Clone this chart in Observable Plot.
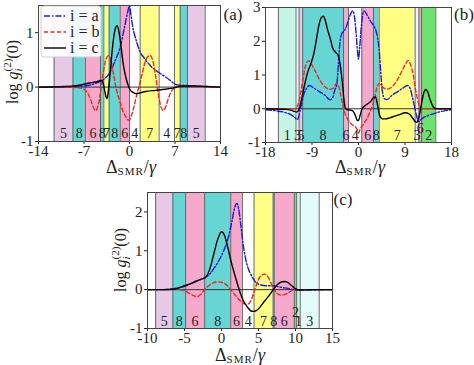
<!DOCTYPE html>
<html><head><meta charset="utf-8">
<script src="https://cdn.jsdelivr.net/npm/d3@7"></script>
<script src="https://cdn.jsdelivr.net/npm/@observablehq/plot@0.6"></script>
<style>
body{margin:0;background:#fff;}
#wrap{position:relative;width:474px;height:365px;overflow:hidden;font-family:"Liberation Serif","Times New Roman","DejaVu Serif",serif;}
#wrap > svg{position:absolute;margin:0;}
#wrap text{font-family:"Liberation Serif","Times New Roman","DejaVu Serif",serif;}
</style></head><body><div id="wrap"></div>
<script>
// ---------- band colours by regime number ----------
const bandColors = {1:"#c4f5e6", 2:"#6ee26e", 3:"#e4fbfb", 4:"#ffffff", 5:"#e7c8e7", 6:"#f6a9cb", 7:"#ffff84", 8:"#66d5d3"};

// ---------- panel (a) ----------
const aEdges = [-11.6, -8.7, -6.8, -4.46, -3.95, -3.13, -1.44, 0, 1.64, 4.56, 6.92, 7.8, 8.92, 11.64];
const aKinds = [5, 8, 6, 8, 7, 8, 6, 4, 7, 4, 7, 8, 5];
const aRaised = [];
const aBlueX = [-14, -10, -8, -6, -5, -4, -3, -2.2, -1.44, -0.77, -0.26, 0, 0.25, 0.51, 1.03, 1.54, 2.3, 3.33, 4.36, 5.38, 6.4, 6.9, 7.5, 8.5, 10, 12, 14];
const aBlueY = [0, 0, 0.01, 0.04, 0.08, 0.14, 0.27, 0.49, 0.73, 1.1, 1.39, 1.5, 1.3, 1.1, 0.86, 0.67, 0.53, 0.38, 0.28, 0.2, 0.11, 0.06, 0.04, 0.03, 0.02, 0.01, 0];
const aRedX = [-14, -10, -8, -7, -6.5, -6, -5.6, -5.2, -4.8, -4.4, -4.0, -3.6, -3.2, -2.8, -2.4, -2.0, -1.6, -1.2, -0.8, -0.4, -0.1, 0.3, 0.7, 1.1, 1.5, 1.9, 2.3, 2.8, 3.2, 3.6, 4.0, 4.4, 4.8, 5.2, 5.6, 6.0, 6.5, 7, 8, 10, 14];
const aRedY = [0, 0, -0.01, -0.04, -0.1, -0.22, -0.36, -0.43, -0.33, -0.05, 0.3, 0.52, 0.58, 0.45, 0.2, -0.05, -0.22, -0.38, -0.5, -0.58, -0.61, -0.52, -0.35, -0.15, 0.03, 0.22, 0.42, 0.56, 0.58, 0.48, 0.22, -0.1, -0.35, -0.43, -0.35, -0.2, -0.07, 0, 0.02, 0.01, 0];
const aBlackX = [-14, -10, -8, -6, -5, -4.5, -4.2, -4.0, -3.8, -3.6, -3.45, -3.3, -3.1, -2.8, -2.5, -2.2, -1.9, -1.6, -1.3, -1.0, -0.6, -0.2, 0.2, 0.6, 1.0, 1.5, 2.5, 4, 5.5, 7, 8, 10, 12, 14];
const aBlackY = [0, 0.01, 0.03, 0.08, 0.1, 0.12, 0.12, 0.05, -0.08, -0.18, -0.21, -0.12, 0.1, 0.5, 0.85, 1.07, 1.13, 1.0, 0.75, 0.45, 0.2, 0.03, -0.07, -0.1, -0.12, -0.11, -0.08, -0.06, -0.04, -0.01, 0.02, 0.02, 0.01, 0];

// ---------- panel (b) ----------
const bEdges = [-15.5, -12.1, -11.5, -10.8, -2.9, -1.93, 0.64, 2.9, 4.0, 10.96, 11.7, 12.2, 14.96];
const bKinds = [1, 3, 5, 8, 6, 4, 6, 8, 7, 3, 6, 2];
const bRaised = [10];
const bBlueX = [-18, -16, -14, -13, -12.3, -11.9, -11.6, -11.3, -11.0, -10.6, -10.0, -9.5, -8.5, -7.5, -6.5, -5.5, -5.0, -4.6, -4.2, -3.9, -3.6, -3.3, -3.0, -2.6, -2.2, -1.8, -1.4, -1.1, -0.8, -0.5, -0.25, 0, 0.25, 0.5, 0.8, 1.1, 1.5, 2, 2.5, 3, 3.4, 3.7, 4.0, 4.3, 4.6, 5.0, 5.5, 6.5, 7.5, 8.5, 9.5, 10.0, 10.5, 11.0, 11.4, 11.7, 12, 12.5, 13.5, 15, 16, 18];
const bBlueY = [-0.03, -0.06, -0.12, -0.18, -0.26, -0.32, -0.25, -0.05, 0.15, 0.42, 0.62, 0.69, 0.6, 0.5, 0.4, 0.27, 0.33, 0.55, 0.72, 1.3, 1.95, 2.2, 2.28, 2.35, 2.5, 2.7, 2.85, 2.9, 2.75, 2.3, 1.8, 1.47, 1.85, 2.35, 2.78, 2.9, 2.82, 2.68, 2.55, 2.45, 2.3, 2.1, 1.75, 1.1, 0.55, 0.3, 0.27, 0.4, 0.5, 0.6, 0.69, 0.6, 0.3, -0.05, -0.3, -0.38, -0.33, -0.27, -0.2, -0.12, -0.08, -0.03];
const bRedX = [-18, -13, -12.2, -11.8, -11.4, -11.0, -10.6, -10.2, -9.7, -9.2, -8.5, -7.5, -6.5, -5.5, -4.8, -4.3, -3.9, -3.5, -3.1, -2.7, -2.2, -1.6, -1.0, -0.5, -0.2, 0, 0.2, 0.5, 1.0, 1.6, 2.2, 2.7, 3.1, 3.5, 4.0, 4.5, 5.5, 6.5, 7.5, 8.5, 9.2, 9.6, 10.1, 10.6, 11.0, 11.4, 11.8, 12.2, 18];
const bRedY = [0, 0, 0, 0.08, 0.3, 0.65, 1.0, 1.3, 1.42, 1.35, 1.15, 0.85, 0.65, 0.58, 0.62, 0.75, 0.7, 0.45, 0.15, -0.1, -0.28, -0.42, -0.5, -0.55, -0.65, -0.72, -0.65, -0.55, -0.45, -0.3, -0.1, 0.1, 0.3, 0.6, 0.74, 0.66, 0.58, 0.65, 0.85, 1.15, 1.35, 1.43, 1.3, 1.0, 0.6, 0.3, 0.08, 0, 0];
const bBlackX = [-18, -14, -13, -12.4, -12.0, -11.6, -11.2, -10.8, -10.3, -9.8, -9.3, -8.7, -8.2, -7.7, -7.2, -6.8, -6.4, -6.0, -5.5, -5.0, -4.5, -4.0, -3.6, -3.2, -2.9, -2.6, -2.2, -1.5, -1.0, -0.6, -0.3, 0, 0.3, 0.7, 1.2, 1.8, 2.4, 2.9, 3.3, 3.7, 4.1, 4.6, 5.2, 6, 7, 8, 9, 9.8, 10.5, 11.0, 11.3, 11.6, 11.9, 12.2, 12.6, 13.0, 13.4, 13.8, 14.3, 15, 16, 18];
const bBlackY = [0, -0.02, -0.05, -0.08, -0.1, -0.05, 0.15, 0.45, 0.8, 1.1, 1.3, 1.6, 2.0, 2.45, 2.7, 2.74, 2.6, 2.35, 2.1, 1.8, 1.68, 1.6, 1.35, 0.88, 0.4, 0.04, -0.03, -0.04, -0.08, -0.2, -0.33, -0.35, -0.2, 0.0, 0.08, 0.15, 0.22, 0.33, 0.35, 0.1, -0.2, -0.3, -0.3, -0.27, -0.22, -0.17, -0.12, -0.15, -0.28, -0.38, -0.4, -0.3, -0.1, 0.15, 0.45, 0.57, 0.5, 0.3, 0.1, 0.0, 0, 0];

// ---------- panel (c) ----------
const cEdges = [-8.9, -6.57, -4.85, -2.28, 1.25, 2.83, 4.4, 6.98, 7.12, 9.83, 10.15, 10.64, 13.2];
const cKinds = [5, 8, 6, 8, 6, 4, 7, 8, 6, 2, 1, 3];
const cRaised = [9];
const cBlueX = [-10, -8, -6.6, -5.5, -4.85, -4, -3, -2.3, -1.5, -1, -0.5, 0, 0.5, 1.0, 1.4, 1.7, 1.95, 2.1, 2.3, 2.6, 2.9, 3.2, 3.6, 4.0, 4.5, 5.0, 6.0, 7.0, 8.0, 9.0, 9.8, 11, 15];
const cBlueY = [0, 0, 0.02, 0.06, 0.1, 0.17, 0.25, 0.3, 0.42, 0.55, 0.7, 0.88, 1.1, 1.4, 1.75, 2.05, 2.2, 2.22, 2.1, 1.67, 1.2, 0.85, 0.55, 0.38, 0.22, 0.14, 0.1, 0.1, 0.06, 0.03, 0.0, -0.01, 0];
const cRedX = [-10, -6, -5, -4.3, -3.7, -3.27, -2.8, -2.3, -1.6, -0.9, -0.5, 0, 0.5, 1.0, 1.6, 2.2, 2.8, 3.3, 3.7, 4.1, 4.5, 4.9, 5.3, 5.8, 6.3, 6.8, 7.1, 7.5, 8.0, 8.6, 9.2, 9.8, 15];
const cRedY = [0, 0, -0.03, -0.1, -0.16, -0.18, -0.12, 0.0, 0.12, 0.19, 0.2, 0.19, 0.15, 0.06, -0.08, -0.22, -0.33, -0.38, -0.36, -0.22, 0.0, 0.22, 0.35, 0.4, 0.32, 0.12, 0.0, -0.1, -0.14, -0.12, -0.06, 0.0, 0];
const cBlackX = [-10, -8, -6.6, -5, -4, -3, -2.3, -1.9, -1.5, -1.0, -0.5, 0, 0.4, 0.8, 1.2, 1.7, 2.2, 2.6, 3.0, 3.5, 4.0, 4.3, 4.7, 5.2, 5.8, 6.4, 7.0, 7.5, 8.0, 8.5, 9.0, 9.5, 10.0, 10.5, 12, 15];
const cBlackY = [0, 0, 0.01, 0.1, 0.17, 0.25, 0.3, 0.38, 0.58, 0.95, 1.3, 1.49, 1.4, 1.13, 0.8, 0.44, 0.12, -0.12, -0.3, -0.45, -0.55, -0.56, -0.54, -0.45, -0.3, -0.16, 0.0, 0.12, 0.19, 0.21, 0.18, 0.1, 0.02, -0.01, 0, 0];

const seriesNames = ["i = a", "i = b", "i = c"];
const seriesColors = ["#1a1adb", "#f0281e", "#000000"];
const seriesDash = ["6,2,1.5,2", "4,2.5", null];

const font = "Liberation Serif, Times New Roman, DejaVu Serif, serif";

function pts(xs, ys) { return xs.map((x, i) => ({x, y: ys[i]})); }

function panel(o) {
  const bands = o.kinds.map((k, i) => ({x1: o.edges[i], x2: o.edges[i + 1], kind: k, raised: o.raised.includes(i)}));
  const lines = o.series.map((s, j) => Plot.line(pts(s[0], s[1]), {
    x: "x", y: "y", stroke: seriesColors[j], strokeWidth: 1.4,
    strokeDasharray: seriesDash[j] || undefined, curve: "monotone-x"
  }));
  const svg = Plot.plot({
    width: o.width, height: o.height,
    marginLeft: o.m[0], marginRight: o.m[1], marginTop: o.m[2], marginBottom: o.m[3],
    x: {domain: o.xDomain, ticks: o.xTicks, tickFormat: d => String(d), label: null, tickSize: 3, tickPadding: 1},
    y: {domain: o.yDomain, ticks: o.yTicks, tickFormat: d => String(d), label: null, tickSize: 3, tickPadding: 2},
    color: {type: "identity"},
    style: {fontFamily: font, fontSize: "15px", background: "transparent", color: "#222", overflow: "visible"},
    marks: [
      Plot.rect(bands, {x1: "x1", x2: "x2", fill: d => bandColors[d.kind]}),
      Plot.ruleX(o.edges, {stroke: "#5a5a5a", strokeWidth: 0.9}),
      Plot.ruleY([0], {stroke: "#333", strokeWidth: 1}),
      Plot.text(bands, {x: d => (d.x1 + d.x2) / 2, y: d => d.raised ? o.raisedY : o.labelY, text: d => String(d.kind),
        fontSize: 14, fill: "#222", lineAnchor: "middle"}),
      ...lines,
      Plot.frame({stroke: "#444", strokeWidth: 1})
    ]
  });
  svg.style.left = o.left + "px";
  svg.style.top = o.top + "px";
  return svg;
}

const wrap = document.getElementById("wrap");
wrap.appendChild(panel({
  left: 0, top: 0, width: 240, height: 180, m: [38, 20, 5, 39],
  xDomain: [-14, 14], yDomain: [-1, 1.5], xTicks: [-14, -7, 0, 7, 14], yTicks: [-1, 0, 1],
  edges: aEdges, kinds: aKinds, raised: aRaised, labelY: -0.86, raisedY: -0.6,
  series: [[aBlueX, aBlueY], [aRedX, aRedY], [aBlackX, aBlackY]]
}));
wrap.appendChild(panel({
  left: 240, top: 0, width: 234, height: 180, m: [25, 23, 7, 38],
  xDomain: [-18, 18], yDomain: [-1, 3], xTicks: [-18, -9, 0, 9, 18], yTicks: [-1, 0, 1, 2, 3],
  edges: bEdges, kinds: bKinds, raised: bRaised, labelY: -0.79, raisedY: -0.58,
  series: [[bBlueX, bBlueY], [bRedX, bRedY], [bBlackX, bBlackY]]
}));
wrap.appendChild(panel({
  left: 100, top: 180, width: 260, height: 185, m: [47, 28, 12, 37],
  xDomain: [-10, 15], yDomain: [-1, 2.5], xTicks: [-10, -5, 0, 5, 10, 15], yTicks: [-1, 0, 1, 2],
  edges: cEdges, kinds: cKinds, raised: cRaised, labelY: -0.83, raisedY: -0.6,
  series: [[cBlueX, cBlueY], [cRedX, cRedY], [cBlackX, cBlackY]]
}));

// ---------- overlay: axis titles, panel letters, legend ----------
const ov = d3.select(wrap).append("svg")
  .attr("width", 474).attr("height", 365)
  .style("left", "0px").style("top", "0px").style("pointer-events", "none")
  .style("font-family", font).style("fill", "#222");

function yTitle(cx, cy) {
  const t = ov.append("text").attr("transform", `translate(${cx},${cy}) rotate(-90)`)
    .attr("text-anchor", "middle").attr("font-size", 16);
  t.append("tspan").text("log ");
  t.append("tspan").attr("font-style", "italic").text("g");
  t.append("tspan").attr("font-size", 11).attr("font-style", "italic").attr("dy", 4).text("i");
  t.append("tspan").attr("font-size", 11).attr("dy", -11).attr("dx", -3).text("(2)");
  t.append("tspan").attr("dy", 7).text("(0)");
}
function xTitle(cx, by) {
  const t = ov.append("text").attr("x", cx).attr("y", by).attr("text-anchor", "middle").attr("font-size", 18);
  t.append("tspan").text("Δ");
  t.append("tspan").attr("font-size", 11).attr("letter-spacing", 1).attr("dy", 2).text("SMR");
  t.append("tspan").attr("dy", -2).text("/");
  t.append("tspan").attr("font-style", "italic").text("γ");
}
yTitle(18, 72);
yTitle(126, 260);
xTitle(131, 173);
xTitle(360, 173);
xTitle(240, 361);

ov.append("text").attr("x", 233).attr("y", 20).attr("text-anchor", "middle").attr("font-size", 17).text("(a)");
ov.append("text").attr("x", 464).attr("y", 20).attr("text-anchor", "middle").attr("font-size", 17).text("(b)");
ov.append("text").attr("x", 343).attr("y", 205).attr("text-anchor", "middle").attr("font-size", 17).text("(c)");

// legend in panel (a)
const lg = ov.append("g");
lg.append("rect").attr("x", 41).attr("y", 6).attr("width", 60).attr("height", 51).attr("rx", 3)
  .attr("fill", "white").attr("fill-opacity", 0.92).attr("stroke", "#cfcfcf");
seriesNames.forEach((name, j) => {
  const y = 16 + j * 16;
  lg.append("line").attr("x1", 44).attr("x2", 66).attr("y1", y).attr("y2", y)
    .attr("stroke", seriesColors[j]).attr("stroke-width", 1.4)
    .attr("stroke-dasharray", seriesDash[j] || null);
  lg.append("text").attr("x", 70).attr("y", y + 5).attr("font-size", 16).text(name);
});
</script></body></html>
